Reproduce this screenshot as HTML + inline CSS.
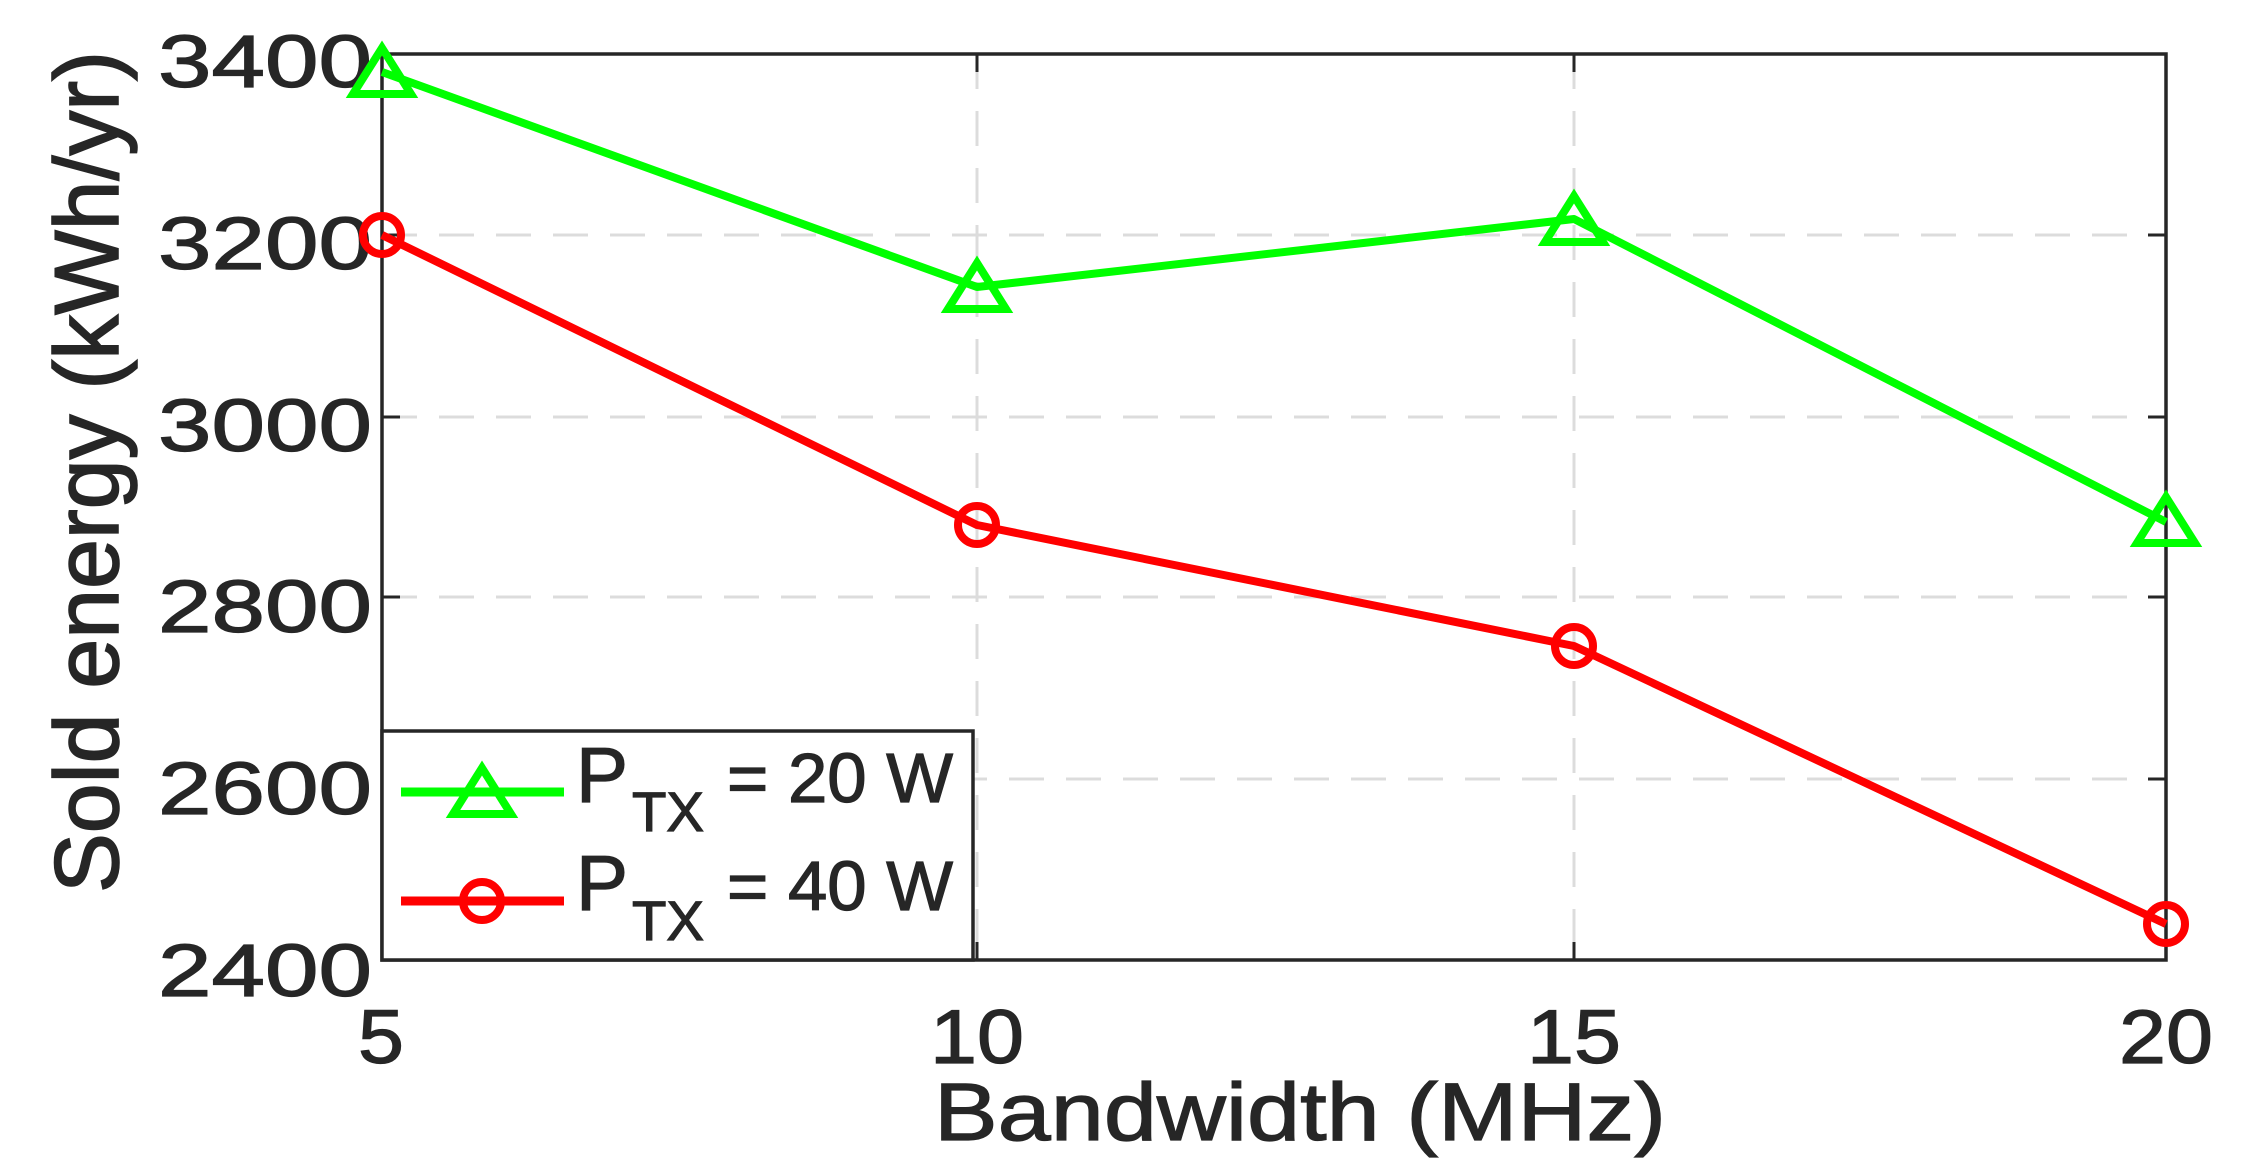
<!DOCTYPE html>
<html><head><meta charset="utf-8"><style>
html,body{margin:0;padding:0;background:#fff;}
svg{display:block;}
text{font-family:"Liberation Sans",Arial,sans-serif;fill:#262626;stroke:#262626;stroke-width:1.2;}
</style></head><body>
<svg width="2247" height="1174" viewBox="0 0 2247 1174" xmlns="http://www.w3.org/2000/svg">
<rect width="2247" height="1174" fill="#fff"/>
<g stroke="#dcdcdc" stroke-width="3" stroke-dasharray="35 22" fill="none">
  <line x1="977" y1="54" x2="977" y2="960"/>
  <line x1="1574" y1="54" x2="1574" y2="960"/>
  <line x1="382" y1="235" x2="2166" y2="235"/>
  <line x1="382" y1="417" x2="2166" y2="417"/>
  <line x1="382" y1="597" x2="2166" y2="597"/>
  <line x1="382" y1="779" x2="2166" y2="779"/>
</g>
<rect x="382" y="54" width="1784" height="906" fill="none" stroke="#262626" stroke-width="3.5"/>
<g stroke="#262626" stroke-width="3">
  <line x1="977" y1="960" x2="977" y2="942"/><line x1="977" y1="54" x2="977" y2="72"/>
  <line x1="1574" y1="960" x2="1574" y2="942"/><line x1="1574" y1="54" x2="1574" y2="72"/>
  <line x1="2166" y1="235" x2="2148" y2="235"/><line x1="2166" y1="417" x2="2148" y2="417"/>
  <line x1="2166" y1="597" x2="2148" y2="597"/><line x1="2166" y1="779" x2="2148" y2="779"/>
  <line x1="382" y1="235" x2="400" y2="235"/><line x1="382" y1="417" x2="400" y2="417"/>
  <line x1="382" y1="597" x2="400" y2="597"/><line x1="382" y1="779" x2="400" y2="779"/>
</g>
<g font-size="74">
  <text x="158" y="87" textLength="214" lengthAdjust="spacingAndGlyphs">3400</text>
  <text x="158" y="269" textLength="214" lengthAdjust="spacingAndGlyphs">3200</text>
  <text x="158" y="451" textLength="214" lengthAdjust="spacingAndGlyphs">3000</text>
  <text x="158" y="632" textLength="214" lengthAdjust="spacingAndGlyphs">2800</text>
  <text x="158" y="814" textLength="214" lengthAdjust="spacingAndGlyphs">2600</text>
  <text x="158" y="996" textLength="214" lengthAdjust="spacingAndGlyphs">2400</text>
</g>
<g font-size="76">
  <text x="358" y="1063" textLength="46" lengthAdjust="spacingAndGlyphs">5</text>
  <text x="930" y="1063" textLength="94" lengthAdjust="spacingAndGlyphs">10</text>
  <text x="1527" y="1063" textLength="94" lengthAdjust="spacingAndGlyphs">15</text>
  <text x="2119" y="1063" textLength="94" lengthAdjust="spacingAndGlyphs">20</text>
</g>
<text x="1300" y="1140" font-size="82" text-anchor="middle" textLength="732" lengthAdjust="spacingAndGlyphs">Bandwidth (MHz)</text>
<text transform="translate(118,472) rotate(-90) scale(1,1.3)" font-size="70" text-anchor="middle" textLength="842" lengthAdjust="spacingAndGlyphs">Sold  energy (kWh/yr)</text>
<g fill="none" stroke-width="8" stroke-linejoin="round">
  <polyline stroke="#00ff00" points="382,72 977,287 1574,219 2166,522"/>
  <polyline stroke="#ff0000" points="382,235 977,525 1574,646 2166,924"/>
</g>
<g fill="none" stroke="#00ff00" stroke-width="8">
  <polygon points="382,48 353,94 411,94"/>
  <polygon points="977,263 948,309 1006,309"/>
  <polygon points="1574,196 1545,242 1603,242"/>
  <polygon points="2166,497 2137,543 2195,543"/>
</g>
<g fill="none" stroke="#ff0000" stroke-width="8">
  <circle cx="382" cy="235" r="19"/>
  <circle cx="977" cy="525" r="19"/>
  <circle cx="1574" cy="646" r="19"/>
  <circle cx="2166" cy="924" r="19"/>
</g>
<rect x="382" y="731" width="591" height="229" fill="#fff" stroke="#262626" stroke-width="3.5"/>
<line x1="401" y1="792" x2="564" y2="792" stroke="#00ff00" stroke-width="9"/>
<polygon points="482,768 453,814 511,814" fill="none" stroke="#00ff00" stroke-width="8"/>
<line x1="401" y1="901" x2="564" y2="901" stroke="#ff0000" stroke-width="9"/>
<circle cx="482" cy="901" r="19" fill="none" stroke="#ff0000" stroke-width="8"/>
<g>
  <text x="576" y="802" font-size="78">P</text>
  <text x="632" y="831" font-size="56" textLength="72" lengthAdjust="spacingAndGlyphs">TX</text>
  <text x="727" y="802" font-size="70" textLength="226" lengthAdjust="spacingAndGlyphs">= 20 W</text>
  <text x="576" y="910" font-size="78">P</text>
  <text x="632" y="940" font-size="56" textLength="72" lengthAdjust="spacingAndGlyphs">TX</text>
  <text x="727" y="910" font-size="70" textLength="226" lengthAdjust="spacingAndGlyphs">= 40 W</text>
</g>
</svg>
</body></html>
